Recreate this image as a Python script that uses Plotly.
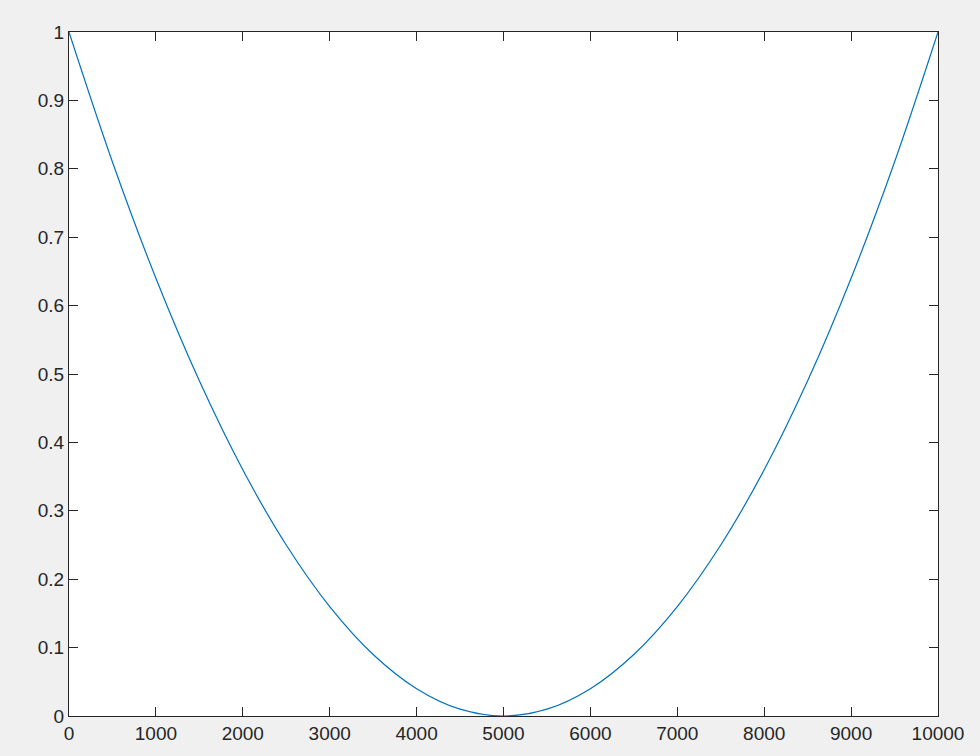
import plotly.graph_objects as go

# values
x_vals = [0, 500, 1000, 1500, 2000, 2500, 3000, 3500, 4000, 4500, 5000,
          5500, 6000, 6500, 7000, 7500, 8000, 8500, 9000, 9500, 10000]
y_vals = [1.0, 0.81, 0.64, 0.49, 0.36, 0.25, 0.16, 0.09, 0.04, 0.01, 0.0,
          0.01, 0.04, 0.09, 0.16, 0.25, 0.36, 0.49, 0.64, 0.81, 1.0]

x_ticks = list(range(0, 10001, 1000))
x_labels = [str(v) for v in x_ticks]
y_ticks = [0, 0.1, 0.2, 0.3, 0.4, 0.5, 0.6, 0.7, 0.8, 0.9, 1]
y_labels = ['0', '0.1', '0.2', '0.3', '0.4', '0.5', '0.6', '0.7', '0.8', '0.9', '1']

fig = go.Figure()
fig.add_trace(go.Scatter(x=x_vals, y=y_vals, mode='lines',
                         line=dict(color='#0072BD', width=1.2, shape='spline', smoothing=1.0),
                         hoverinfo='x+y'))

axis_style = dict(showline=True, linecolor='#262626', linewidth=1, mirror='ticks',
                  ticks='inside', ticklen=9, tickcolor='#262626', tickwidth=1,
                  showgrid=False, zeroline=False,
                  tickfont=dict(family='Liberation Sans, Arial, sans-serif', size=19, color='#262626'))

fig.update_xaxes(range=[0, 10000], tickvals=x_ticks, ticktext=x_labels, **axis_style)
fig.update_yaxes(range=[0, 1], tickvals=y_ticks, ticktext=y_labels, **axis_style)

fig.update_layout(width=980, height=756,
                  margin=dict(l=69, r=42, t=32, b=40),
                  paper_bgcolor='#f0f0f0', plot_bgcolor='white',
                  showlegend=False)

# drop the default page margin so the figure sits at the window corner
fig.write_html("out.html", config={'displayModeBar': False},
               post_script="document.body.style.margin='0';document.body.style.background='#f0f0f0';")
